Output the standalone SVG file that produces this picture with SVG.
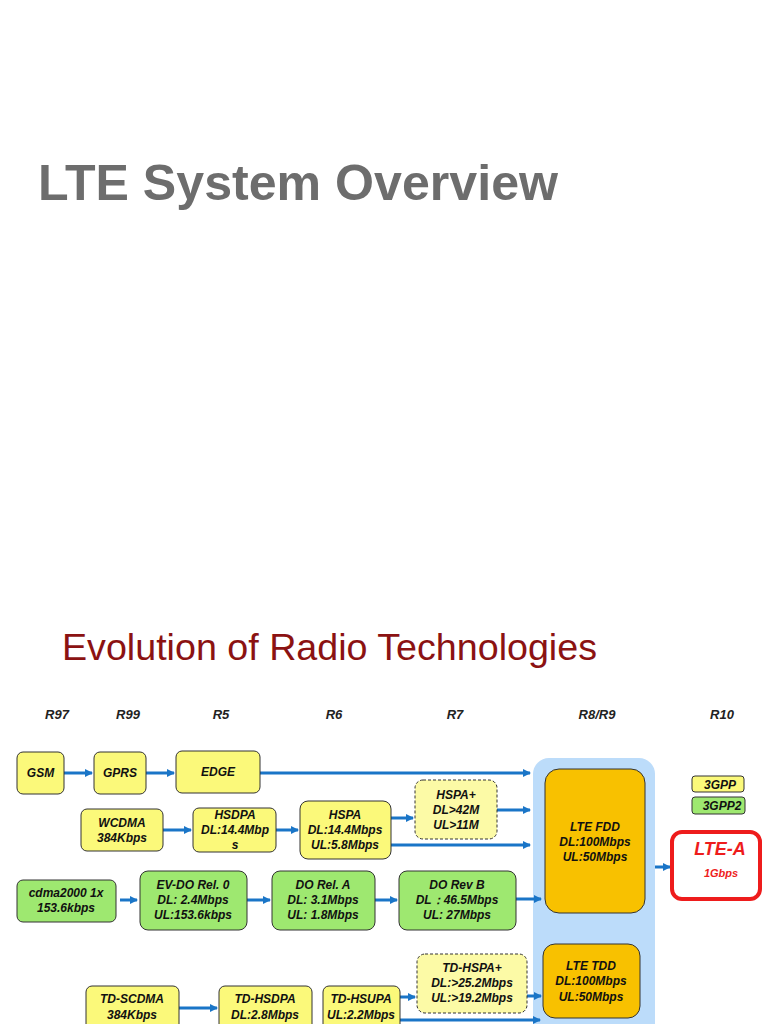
<svg xmlns="http://www.w3.org/2000/svg" width="768" height="1024" viewBox="0 0 768 1024">
<defs>
<marker id="ah" markerWidth="8" markerHeight="8" refX="7" refY="4" orient="auto" markerUnits="userSpaceOnUse"><path d="M0,0 L8,4 L0,8 Z" fill="#1a75c7"/></marker>
</defs>
<style>
.t{font-family:"Liberation Sans",Arial,sans-serif;font-weight:bold;font-style:italic;font-size:12px;fill:#111;text-anchor:middle}
.y{fill:#fbf97a;stroke:#333;stroke-width:1}
.g{fill:#9ee870;stroke:#333;stroke-width:1}
.d{fill:#fcfaa6;stroke:#333;stroke-width:1;stroke-dasharray:3,2}
.o{fill:#f8c100;stroke:#333;stroke-width:1}
.c line{stroke:#1a75c7;stroke-width:3;marker-end:url(#ah)}
.r{font-family:"Liberation Sans",Arial,sans-serif;font-weight:bold;font-style:italic;font-size:13px;fill:#222;text-anchor:middle}
</style>
<rect width="768" height="1024" fill="#fff"/>
<text x="38" y="200" font-family="Liberation Sans,Arial,sans-serif" font-weight="bold" font-size="50" fill="#6d6d6d" textLength="520" lengthAdjust="spacingAndGlyphs">LTE System Overview</text>
<text x="62" y="660" font-family="Liberation Sans,Arial,sans-serif" font-size="37" fill="#8b1212" textLength="535" lengthAdjust="spacingAndGlyphs">Evolution of Radio Technologies</text>
<g id="releases">
<text class="r" x="57" y="719">R97</text><text class="r" x="128" y="719">R99</text><text class="r" x="221" y="719">R5</text><text class="r" x="334" y="719">R6</text><text class="r" x="455" y="719">R7</text><text class="r" x="597" y="719">R8/R9</text><text class="r" x="722" y="719">R10</text>
</g>
<rect x="533" y="758" width="122" height="290" rx="16" fill="#bcdcfa"/>
<g class="c" id="connectors">
<line x1="64" y1="773" x2="92" y2="773"/>
<line x1="146" y1="773" x2="174" y2="773"/>
<line x1="260" y1="773" x2="530" y2="773"/>
<line x1="163" y1="830" x2="191" y2="830"/>
<line x1="276" y1="830" x2="298" y2="830"/>
<line x1="391" y1="818" x2="413" y2="818"/>
<line x1="497" y1="810" x2="530" y2="810"/>
<line x1="391" y1="845" x2="530" y2="845"/>
<line x1="120" y1="900" x2="137" y2="900"/>
<line x1="247" y1="900" x2="270" y2="900"/>
<line x1="375" y1="900" x2="397" y2="900"/>
<line x1="516" y1="899" x2="541" y2="899"/>
<line x1="655" y1="867" x2="670" y2="867"/>
<line x1="179" y1="1008" x2="217" y2="1008"/>
<line x1="400" y1="997" x2="415" y2="997"/>
<line x1="527" y1="996" x2="541" y2="996"/>
<line x1="400" y1="1020" x2="540" y2="1020"/>
</g>
<g id="gsm"><rect class="y" x="17" y="752" width="47" height="42" rx="6"/><text class="t" x="40.5" y="777">GSM</text></g>
<g id="gprs"><rect class="y" x="94" y="752" width="52" height="42" rx="6"/><text class="t" x="120" y="777">GPRS</text></g>
<g id="edge"><rect class="y" x="176" y="751" width="84" height="42" rx="6"/><text class="t" x="218" y="776">EDGE</text></g>
<g id="wcdma"><rect class="y" x="81" y="809" width="82" height="42" rx="6"/><text class="t" x="122" y="827">WCDMA</text><text class="t" x="122" y="842">384Kbps</text></g>
<g id="hsdpa"><rect class="y" x="193" y="808" width="83" height="44" rx="6"/><text class="t" x="235" y="819">HSDPA</text><text class="t" x="235" y="834">DL:14.4Mbp</text><text class="t" x="235" y="849">s</text></g>
<g id="hspa"><rect class="y" x="300" y="801" width="91" height="58" rx="8"/><text class="t" x="345" y="819">HSPA</text><text class="t" x="345" y="834">DL:14.4Mbps</text><text class="t" x="345" y="849">UL:5.8Mbps</text></g>
<g id="hspaplus"><rect class="d" x="415" y="780" width="82" height="59" rx="8"/><text class="t" x="456" y="799">HSPA+</text><text class="t" x="456" y="814">DL&gt;42M</text><text class="t" x="456" y="829">UL&gt;11M</text></g>
<g id="cdma"><rect class="g" x="17" y="880" width="99" height="42" rx="6"/><text class="t" x="66" y="897">cdma2000 1x</text><text class="t" x="66" y="912">153.6kbps</text></g>
<g id="evdo"><rect class="g" x="140" y="871" width="107" height="59" rx="8"/><text class="t" x="193" y="889">EV-DO Rel. 0</text><text class="t" x="193" y="904">DL: 2.4Mbps</text><text class="t" x="193" y="919">UL:153.6kbps</text></g>
<g id="doa"><rect class="g" x="272" y="871" width="103" height="59" rx="8"/><text class="t" x="323" y="889">DO Rel. A</text><text class="t" x="323" y="904">DL: 3.1Mbps</text><text class="t" x="323" y="919">UL: 1.8Mbps</text></g>
<g id="dob"><rect class="g" x="399" y="871" width="117" height="59" rx="8"/><text class="t" x="457" y="889">DO Rev B</text><text class="t" x="457" y="904">DL：46.5Mbps</text><text class="t" x="457" y="919">UL: 27Mbps</text></g>
<g id="tdscdma"><rect class="y" x="86" y="986" width="93" height="46" rx="6"/><text class="t" x="132" y="1003">TD-SCDMA</text><text class="t" x="132" y="1019">384Kbps</text></g>
<g id="tdhsdpa"><rect class="y" x="219" y="986" width="93" height="46" rx="6"/><text class="t" x="265" y="1003">TD-HSDPA</text><text class="t" x="265" y="1019">DL:2.8Mbps</text></g>
<g id="tdhsupa"><rect class="y" x="323" y="986" width="77" height="46" rx="6"/><text class="t" x="361" y="1003">TD-HSUPA</text><text class="t" x="361" y="1019">UL:2.2Mbps</text></g>
<g id="tdhspaplus"><rect class="d" x="417" y="954" width="110" height="59" rx="8"/><text class="t" x="472" y="972">TD-HSPA+</text><text class="t" x="472" y="987">DL:&gt;25.2Mbps</text><text class="t" x="472" y="1002">UL:&gt;19.2Mbps</text></g>
<g id="ltefdd"><rect class="o" x="545" y="769" width="100" height="144" rx="14"/><text class="t" x="595" y="831">LTE FDD</text><text class="t" x="595" y="846">DL:100Mbps</text><text class="t" x="595" y="861">UL:50Mbps</text></g>
<g id="ltetdd"><rect class="o" x="543" y="944" width="97" height="74" rx="12"/><text class="t" x="591" y="970">LTE TDD</text><text class="t" x="591" y="985">DL:100Mbps</text><text class="t" x="591" y="1001">UL:50Mbps</text></g>
<g id="legend3gpp"><rect class="y" x="692" y="776" width="52" height="16" rx="3"/><text class="t" x="720" y="789">3GPP</text></g>
<g id="legend3gpp2"><rect class="g" x="692" y="797" width="53" height="17" rx="3"/><text class="t" x="722" y="810">3GPP2</text></g>
<g id="ltea"><rect x="672" y="832" width="88" height="67" rx="10" fill="#fff" stroke="#ee1c1c" stroke-width="4"/><text x="720" y="855" font-family="Liberation Sans,Arial,sans-serif" font-weight="bold" font-style="italic" font-size="18" fill="#ee1c1c" text-anchor="middle">LTE-A</text><text x="721" y="877" font-family="Liberation Sans,Arial,sans-serif" font-weight="bold" font-style="italic" font-size="11" fill="#ee1c1c" text-anchor="middle">1Gbps</text></g>
</svg>
